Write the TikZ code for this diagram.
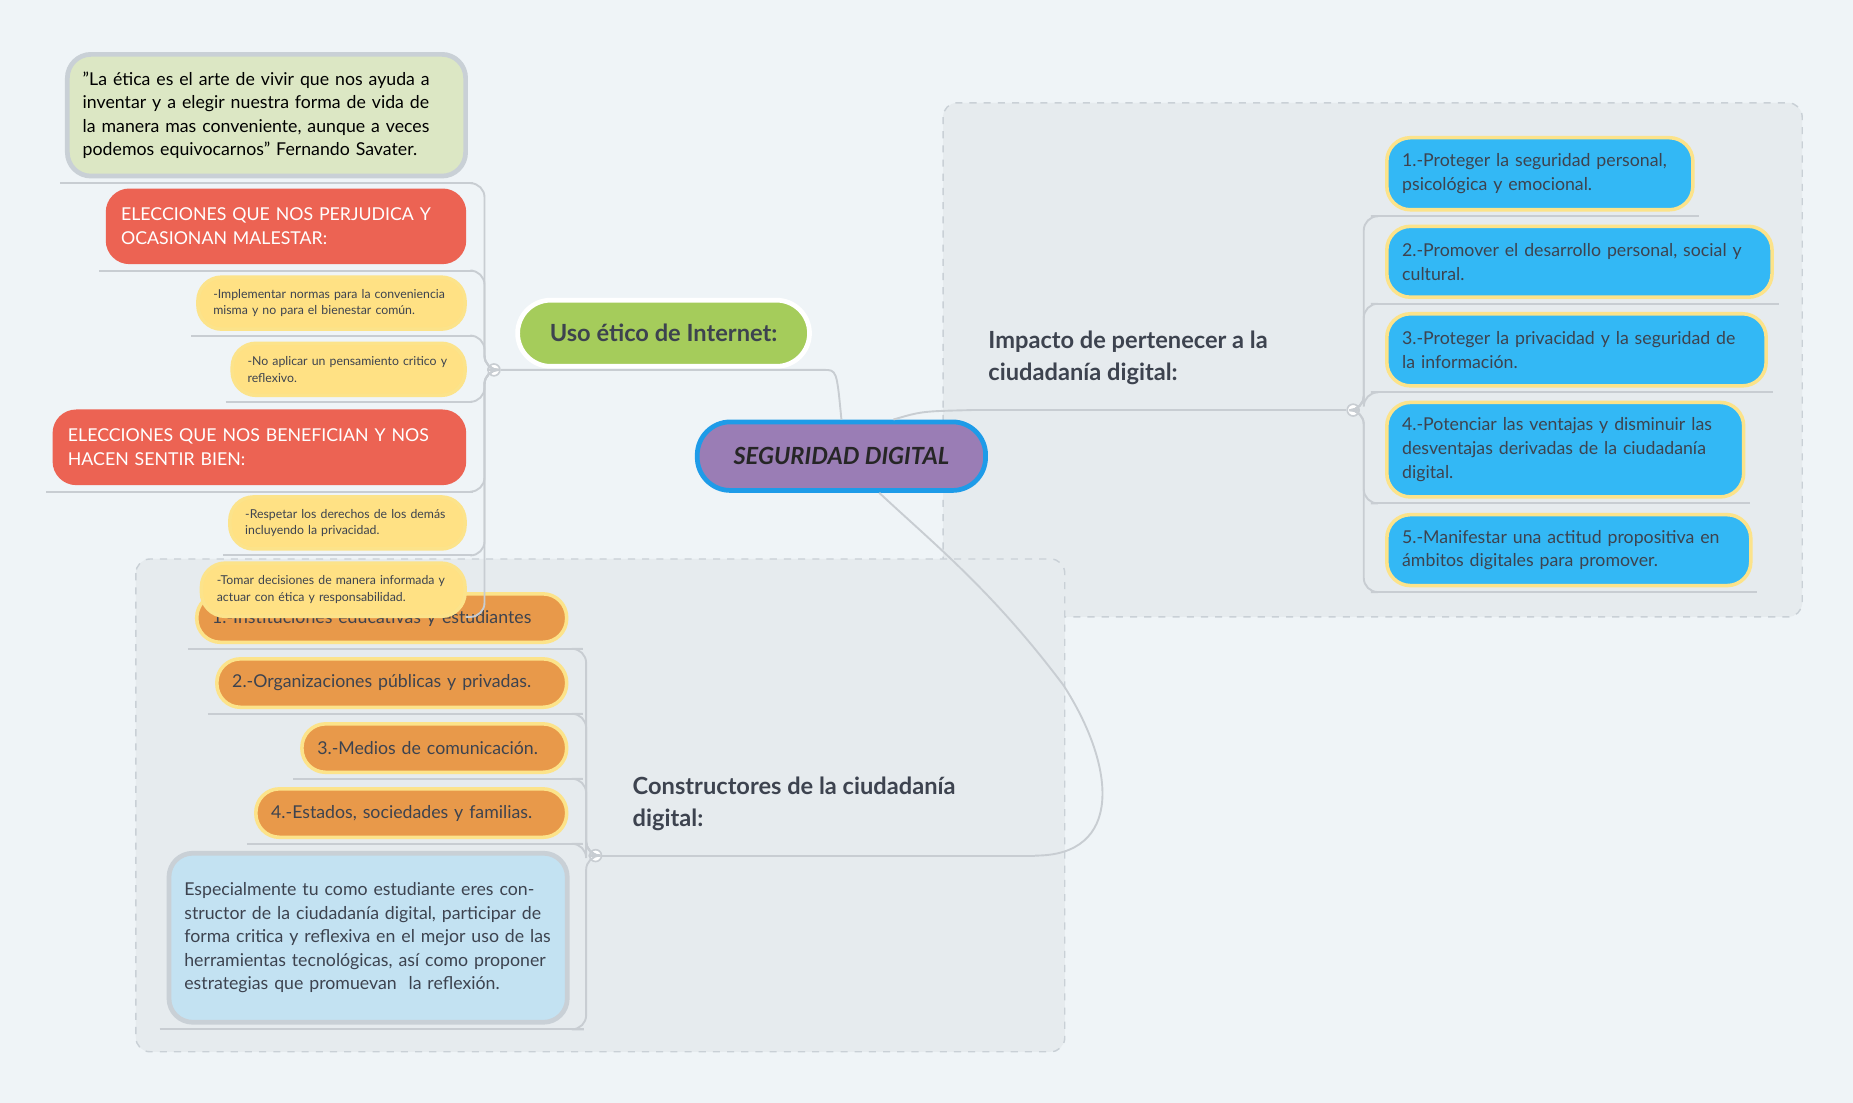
\documentclass[tikz,border=0pt]{standalone}
\usepackage{fontspec}
\setmainfont{Lato}
\definecolor{bg}{HTML}{EFF4F7}
\definecolor{grp}{HTML}{E6EBEE}
\definecolor{ln}{HTML}{C8CDD2}
\definecolor{dk}{HTML}{3D434F}
\definecolor{bl}{HTML}{33B8F5}
\definecolor{yb}{HTML}{FCE38A}
\definecolor{org}{HTML}{E8994A}
\definecolor{rd}{HTML}{EC6353}
\definecolor{yl}{HTML}{FFE184}
\definecolor{lb}{HTML}{C3E2F2}
\definecolor{qg}{HTML}{DCE7C4}
\definecolor{gb}{HTML}{C9D0D6}
\definecolor{pu}{HTML}{9A7DB5}
\definecolor{cb}{HTML}{1E9BE8}
\definecolor{gr}{HTML}{A5CC5B}
\newcommand\bx[7]{\pgfmathsetmacro\bw{(#5-#3)*0.5}\pgfmathsetmacro\bh{(#6-#4)*0.5}\pgfmathsetmacro\tw{\bw-13}%
\node[#2, anchor=north west, minimum width=\bw pt, minimum height=\bh pt, text width=\tw pt] (#1) at (#3,#4) {#7};}
\begin{document}
\begin{tikzpicture}[x=0.5pt,y=-0.5pt,
 box/.style={rounded corners=10pt, line width=1.5pt, inner xsep=5.5pt, align=left, font=\fontsize{7.5}{10}\selectfont, text=dk},
 blue/.style={box, fill=bl, draw=yb},
 orng/.style={box, fill=org, draw=yb},
 red/.style={box, fill=rd, draw=none, text=white},
 yel/.style={box, fill=yl, draw=yb, font=\fontsize{5.2}{7}\selectfont},
 conn/.style={draw=ln, line width=0.8pt, rounded corners=6pt},
 ul/.style={draw=ln, line width=0.8pt},
 jn/.style={circle, draw=ln, fill=white, line width=0.7pt, inner sep=0pt, minimum size=5pt},
 grpb/.style={draw=gb, dashed, fill=grp, rounded corners=6pt, line width=0.6pt}]
\fill[bg] (0,0) rectangle (1568,933);
\useasboundingbox (0,0) rectangle (1568,933);
\draw[grpb] (798,87) rectangle (1525,522);
\draw[grpb] (115,473) rectangle (901,890);
% junctions
\node[jn] (J1) at (418,313) {};
\node[jn] (J2) at (1145,347) {};
\node[jn] (J3) at (504,724) {};
% central
\node[rounded corners=14pt, fill=pu, draw=cb, line width=2pt, minimum width=122pt, minimum height=29pt, font=\fontsize{10}{12}\selectfont\bfseries\itshape, text=black!85] (C) at (712,386) {SEGURIDAD DIGITAL};
\node[rounded corners=14pt, fill=gr, draw=white, line width=2pt, minimum width=123.5pt, minimum height=28pt, font=\fontsize{10}{12}\selectfont\bfseries, text=dk] (U) at (561.5,282) {Uso ético de Internet:};
\node[anchor=north west, align=left, font=\fontsize{10}{13.5}\selectfont\bfseries, text=dk, inner sep=0pt] (I) at (836,280) {Impacto de pertenecer a la\\ciudadanía digital:};
\node[anchor=north west, align=left, font=\fontsize{10}{13.5}\selectfont\bfseries, text=dk, inner sep=0pt] (K) at (535,657) {Constructores de la ciudadanía\\digital:};
\coordinate (Iu) at (822,347);
\coordinate (Ku) at (876,724);
\draw[ul] (Iu) -- (J2);
\draw[ul] (J3) -- (Ku);
\draw[ul] (J1) -- (697,313) .. controls (708,313) .. (C.north);
\draw[ul] ([xshift=22pt]C.north) .. controls (780,348) .. (Iu);
\draw[ul] (Ku) .. controls (950,724) and (945,650) .. (900,580) .. controls (840,500) and (790,460) .. ([xshift=16pt]C.south);
% right blue nodes
\bx{b1}{blue}{1172}{115}{1431}{176}{1.-Proteger la seguridad personal, psicológica y emocional.}
\bx{b2}{blue}{1172}{190}{1498}{250}{2.-Promover el desarrollo personal, social y cultural.}
\bx{b3}{blue}{1172}{264}{1493}{325}{3.-Proteger la privacidad y la seguridad de la información.}
\bx{b4}{blue}{1172}{339}{1474}{419}{4.-Potenciar las ventajas y disminuir las desventajas derivadas de la ciudadanía digital.}
\bx{b5}{blue}{1172}{434}{1480}{494}{5.-Manifestar una actitud propositiva en ámbitos digitales para promover.}
\foreach \n in {b1,b2,b3,b4,b5}{
 \draw[ul] ([xshift=-6pt,yshift=-2pt]\n.south west) -- ([xshift=2pt,yshift=-2pt]\n.south east);
 \draw[conn] (J2) -- (1154,347) |- ([xshift=-6pt,yshift=-2pt]\n.south west);}
% bottom orange nodes
\bx{o1}{orng}{165}{501}{478}{542}{1.-Instituciones educativas y estudiantes}
\bx{o2}{orng}{182}{556}{478}{597}{2.-Organizaciones públicas y privadas.}
\bx{o3}{orng}{254}{611}{478}{652}{3.-Medios de comunicación.}
\bx{o4}{orng}{215}{666}{478}{707}{4.-Estados, sociedades y familias.}
\bx{lbn}{box,fill=lb,draw=gb,line width=2pt}{141}{720}{478}{863}{Especialmente tu como estudiante eres constructor de la ciudadanía digital, participar de forma critica y reflexiva en el mejor uso de las herramientas tecnológicas, así como proponer estrategias que promuevan\ \ la reflexión.}
\foreach \n in {o1,o2,o3,o4,lbn}{
 \draw[ul] ([xshift=-3pt,yshift=-2pt]\n.south west) -- ([xshift=6pt,yshift=-2pt]\n.south east);
 \draw[conn] (J3) -- (496,724) |- ([xshift=6pt,yshift=-2pt]\n.south east);}
% left column
\bx{q}{box,fill=qg,draw=gb,line width=2pt,text=black}{55}{44}{392}{147}{"La ética es el arte de vivir que nos ayuda a inventar y a elegir nuestra forma de vida de la manera mas conveniente, aunque a veces podemos equivocarnos" Fernando Savater.}
\bx{r1}{red}{88}{158}{393}{222}{ELECCIONES QUE NOS PERJUDICA Y OCASIONAN MALESTAR:}
\bx{y1}{yel}{166}{233}{392}{277}{-Implementar normas para la conveniencia misma y no para el bienestar común.}
\bx{y2}{yel}{195}{289}{392}{333}{-No aplicar un pensamiento critico y reflexivo.}
\bx{r2}{red}{43}{345}{393}{409}{ELECCIONES QUE NOS BENEFICIAN Y NOS HACEN SENTIR BIEN:}
\bx{y3}{yel}{193}{419}{392}{463}{-Respetar los derechos de los demás incluyendo la privacidad.}
\foreach \n in {q,r1,y1,y2,r2,y3}{
 \draw[ul] ([xshift=-2pt,yshift=-2pt]\n.south west) -- ([xshift=2pt,yshift=-2pt]\n.south east);
 \draw[conn] (J1) -- (410,313) |- ([xshift=2pt,yshift=-2pt]\n.south east);}
\draw[conn] (J1) -- (410,313) |- (394,522);
\bx{y4}{yel}{169}{475}{392}{520}{-Tomar decisiones de manera informada y actuar con ética y responsabilidad.}
\end{tikzpicture}
\end{document}
